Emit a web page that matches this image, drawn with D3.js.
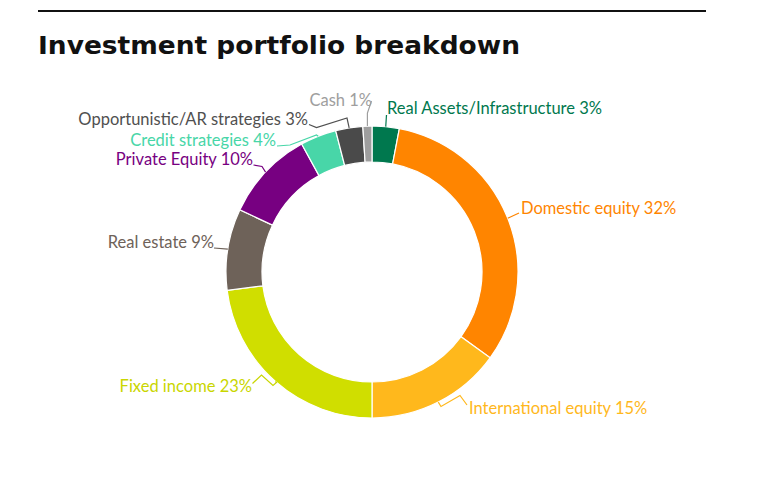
<!DOCTYPE html>
<html>
<head>
<meta charset="utf-8">
<script src="https://cdn.jsdelivr.net/npm/d3@7"></script>
<style>
  body { margin: 0; background: #fff; }
  svg { display: block; font-family: Lato, "Open Sans", sans-serif; }
</style>
</head>
<body>
<div id="chart"></div>
<script>
// portfolio allocation, clockwise from 12 o'clock
var categories = ['Real Assets/Infrastructure', 'Domestic equity', 'International equity', 'Fixed income',
    'Real estate', 'Private Equity', 'Credit strategies', 'Opportunistic/AR strategies', 'Cash'];
var shares = [3, 32, 15, 23, 9, 10, 4, 3, 1];
var sliceColors = ['#00784e', '#ff8500', '#ffb81c', '#d0de00', '#6e6259', '#770081', '#48d6a8', '#4a4a4a', '#9e9e9e'];
var labelColors = ['#00784e', '#ff8500', '#ffb81c', '#c9d600', '#6e6259', '#770081', '#48d6a8', '#505050', '#9e9e9e'];

// where each label sits, and the elbows of its leader line (page pixels)
var labelLayout = [
    {x: 387, y: 114, anchor: 'start', bends: [[386.5, 115]]},
    {x: 521, y: 214, anchor: 'start', bends: [[519, 213]]},
    {x: 469, y: 414, anchor: 'start', bends: [[441, 406.5], [460, 395.5], [467, 405]]},
    {x: 252, y: 392, anchor: 'end', bends: [[276.5, 382.5], [273, 385.5], [261.5, 375], [252.5, 383.5]]},
    {x: 214, y: 248, anchor: 'end', bends: [[214, 248]]},
    {x: 253, y: 165, anchor: 'end', bends: [[262, 166.5], [253.5, 165]]},
    {x: 276, y: 146, anchor: 'end', bends: [[316.5, 135], [290, 145], [277, 146]]},
    {x: 308, y: 125, anchor: 'end', bends: [[347, 118], [316.5, 127.5], [309, 124.5]]},
    {x: 372, y: 106, anchor: 'end', bends: [[367.4, 113], [371.5, 101]]}
];

var width = 766, height = 483;
var cx = 372, cy = 272, outerR = 146, innerR = 110;

var svg = d3.select('#chart').append('svg')
    .attr('width', width)
    .attr('height', height);

svg.append('line')
    .attr('x1', 38).attr('x2', 706)
    .attr('y1', 11).attr('y2', 11)
    .attr('stroke', '#111')
    .attr('stroke-width', 2);

svg.append('text')
    .attr('x', 38)
    .attr('y', 54)
    .attr('textLength', 482)
    .attr('lengthAdjust', 'spacingAndGlyphs')
    .style('font-family', '"DejaVu Sans", sans-serif')
    .style('font-size', '25px')
    .style('font-weight', 700)
    .style('fill', '#111')
    .text('Investment portfolio breakdown');

var data = categories.map(function(c, i) {
    return {name: c, value: shares[i], i: i};
});

var pie = d3.pie()
    .value(function(d) { return d.value; })
    .sort(null);

var arc = d3.arc()
    .innerRadius(innerR)
    .outerRadius(outerR);

var g = svg.append('g')
    .attr('transform', 'translate(' + cx + ',' + cy + ')');

var arcs = pie(data);

g.selectAll('path.slice')
    .data(arcs)
    .enter().append('path')
    .attr('class', 'slice')
    .attr('d', arc)
    .attr('fill', function(d) { return sliceColors[d.data.i]; })
    .attr('stroke', '#fff')
    .attr('stroke-width', 1.2);

// leader lines start on the outer edge at the slice's middle angle
var line = d3.line();
svg.selectAll('path.leader')
    .data(arcs)
    .enter().append('path')
    .attr('class', 'leader')
    .attr('d', function(d) {
        var a = (d.startAngle + d.endAngle) / 2;
        var start = [cx + outerR * Math.sin(a), cy - outerR * Math.cos(a)];
        return line([start].concat(labelLayout[d.data.i].bends));
    })
    .attr('fill', 'none')
    .attr('stroke', function(d) { return labelColors[d.data.i]; })
    .attr('stroke-width', 1.2);

svg.selectAll('text.label')
    .data(arcs)
    .enter().append('text')
    .attr('class', 'label')
    .attr('x', function(d) { return labelLayout[d.data.i].x; })
    .attr('y', function(d) { return labelLayout[d.data.i].y; })
    .attr('text-anchor', function(d) { return labelLayout[d.data.i].anchor; })
    .style('font-size', '16.5px')
    .style('fill', function(d) { return labelColors[d.data.i]; })
    .text(function(d) { return d.data.name + ' ' + d.data.value + '%'; });
</script>
</body>
</html>
